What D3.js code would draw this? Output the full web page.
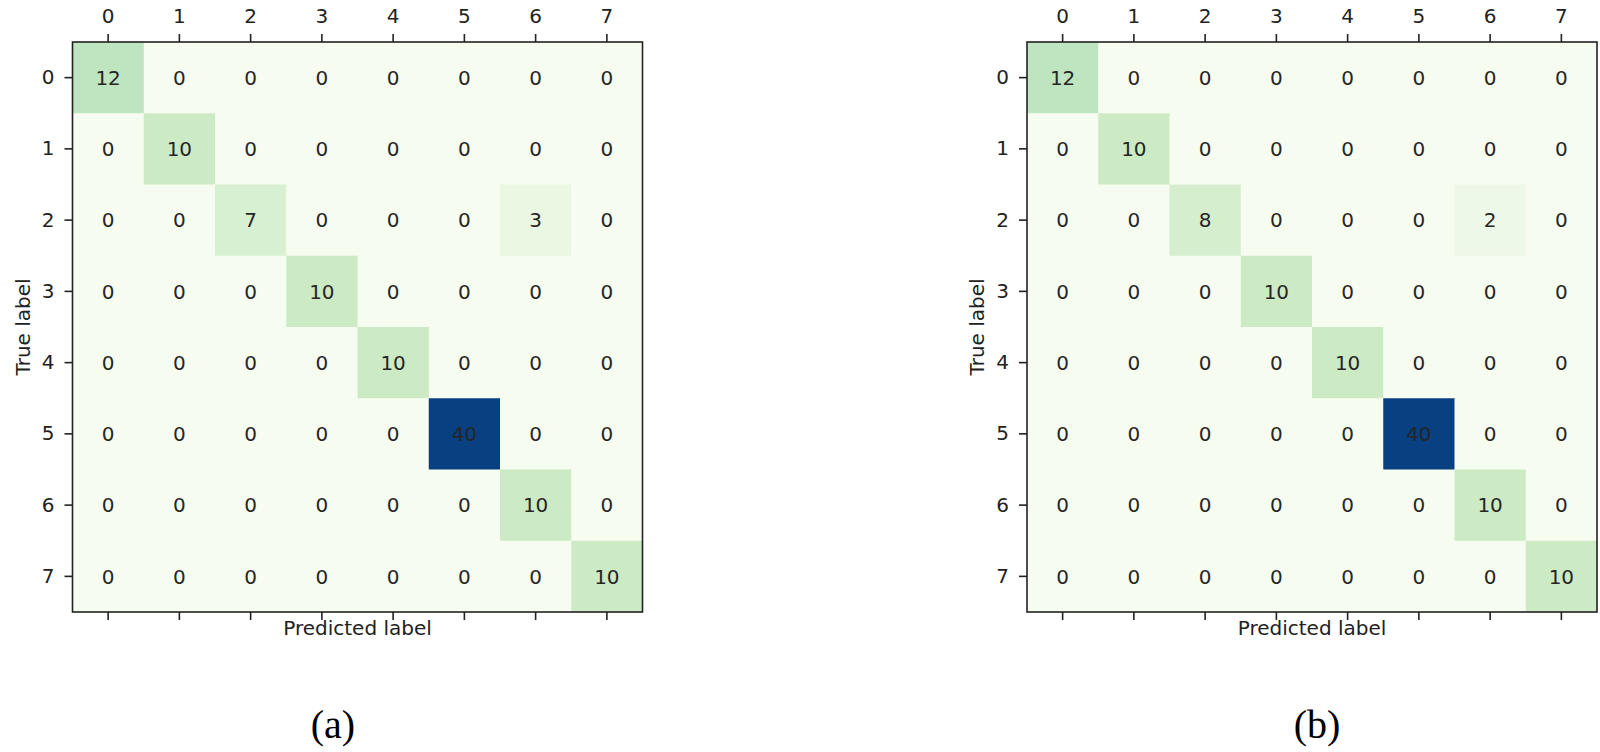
<!DOCTYPE html>
<html>
<head>
<meta charset="utf-8">
<script src="https://cdn.jsdelivr.net/npm/d3@7"></script>
<style>
  body { margin: 0; background: #fff; }
  text { font-family: "DejaVu Sans", sans-serif; }
</style>
</head>
<body>
<svg class="chart"></svg>
<script>
/**
 * Data
 */
const classes = [0, 1, 2, 3, 4, 5, 6, 7];

const matrixA = [
  [12, 0, 0, 0, 0, 0, 0, 0],
  [0, 10, 0, 0, 0, 0, 0, 0],
  [0, 0, 7, 0, 0, 0, 3, 0],
  [0, 0, 0, 10, 0, 0, 0, 0],
  [0, 0, 0, 0, 10, 0, 0, 0],
  [0, 0, 0, 0, 0, 40, 0, 0],
  [0, 0, 0, 0, 0, 0, 10, 0],
  [0, 0, 0, 0, 0, 0, 0, 10]
];

const matrixB = [
  [12, 0, 0, 0, 0, 0, 0, 0],
  [0, 10, 0, 0, 0, 0, 0, 0],
  [0, 0, 8, 0, 0, 0, 2, 0],
  [0, 0, 0, 10, 0, 0, 0, 0],
  [0, 0, 0, 0, 10, 0, 0, 0],
  [0, 0, 0, 0, 0, 40, 0, 0],
  [0, 0, 0, 0, 0, 0, 10, 0],
  [0, 0, 0, 0, 0, 0, 0, 10]
];

const captions = ["(a)", "(b)"];
const xTitle = "Predicted label";
const yTitle = "True label";

/**
 * Layout
 */
const chartWidth = 1600,
  chartHeight = 752,
  plotTop = 42,
  plotSize = 570; // side of each square plot

const svg = d3
  .select(".chart")
  .attr("width", chartWidth)
  .attr("height", chartHeight)
  .style("display", "block");

// matplotlib GnBu is a linear ramp through the 9 scheme colors
const maxValue = d3.max([...matrixA.flat(), ...matrixB.flat()]);
const colorScale = d3
  .scaleLinear()
  .domain(d3.range(9).map(i => (i * maxValue) / 8))
  .range(d3.schemeGnBu[9])
  .interpolate(d3.interpolateRgb);

function drawMatrix(matrix, left, caption, captionX) {
  const g = svg.append("g");

  const xScale = d3
    .scaleBand()
    .domain(classes)
    .range([left, left + plotSize]);
  const yScale = d3
    .scaleBand()
    .domain(classes)
    .range([plotTop, plotTop + plotSize]);

  const cells = matrix.flatMap((row, r) =>
    row.map((value, c) => ({ r, c, value }))
  );

  // cells
  g.selectAll("rect.cell")
    .data(cells)
    .enter()
    .append("rect")
    .attr("class", "cell")
    .attr("x", d => xScale(d.c))
    .attr("y", d => yScale(d.r))
    .attr("width", xScale.bandwidth() + 0.5)
    .attr("height", yScale.bandwidth() + 0.5)
    .attr("fill", d => colorScale(d.value));

  // numbers in the cells
  g.selectAll("text.val")
    .data(cells)
    .enter()
    .append("text")
    .attr("class", "val")
    .attr("x", d => xScale(d.c) + xScale.bandwidth() / 2)
    .attr("y", d => yScale(d.r) + yScale.bandwidth() / 2)
    .attr("dy", "0.36em")
    .attr("text-anchor", "middle")
    .style("font-size", "20px")
    .style("fill", "#262626")
    .text(d => d.value);

  // axes
  const styleAxis = sel => {
    sel.select(".domain").remove();
    sel.selectAll(".tick line").attr("stroke", "#222").attr("stroke-width", 1.6);
    sel.selectAll(".tick text")
      .style("font-size", "20px")
      .style("font-family", "DejaVu Sans")
      .attr("fill", "#222");
  };

  g.append("g")
    .attr("transform", `translate(0, ${plotTop})`)
    .call(d3.axisTop(xScale).tickSize(8).tickPadding(11))
    .call(styleAxis);

  g.append("g")
    .attr("transform", `translate(0, ${plotTop + plotSize})`)
    .call(d3.axisBottom(xScale).tickSize(8).tickFormat(""))
    .call(styleAxis);

  g.append("g")
    .attr("transform", `translate(${left}, 0)`)
    .call(d3.axisLeft(yScale).tickSize(8).tickPadding(10))
    .call(styleAxis);

  // spines
  g.append("rect")
    .attr("x", left)
    .attr("y", plotTop)
    .attr("width", plotSize)
    .attr("height", plotSize)
    .attr("fill", "none")
    .attr("stroke", "#222")
    .attr("stroke-width", 1.6);

  // axis titles
  g.append("text")
    .attr("x", left + plotSize / 2)
    .attr("y", plotTop + plotSize + 23)
    .attr("text-anchor", "middle")
    .style("font-size", "20px")
    .style("fill", "#222")
    .text(xTitle);

  g.append("text")
    .attr("transform", `translate(${left - 43}, ${plotTop + plotSize / 2}) rotate(-90)`)
    .attr("text-anchor", "middle")
    .style("font-size", "20px")
    .style("fill", "#222")
    .text(yTitle);

  // panel caption
  g.append("text")
    .attr("x", captionX)
    .attr("y", 738)
    .attr("text-anchor", "middle")
    .style("font-family", "'Liberation Serif', 'Times New Roman', serif")
    .style("font-size", "40px")
    .style("fill", "#000")
    .text(caption);
}

drawMatrix(matrixA, 72.5, captions[0], 333);
drawMatrix(matrixB, 1027, captions[1], 1317);
</script>
</body>
</html>
